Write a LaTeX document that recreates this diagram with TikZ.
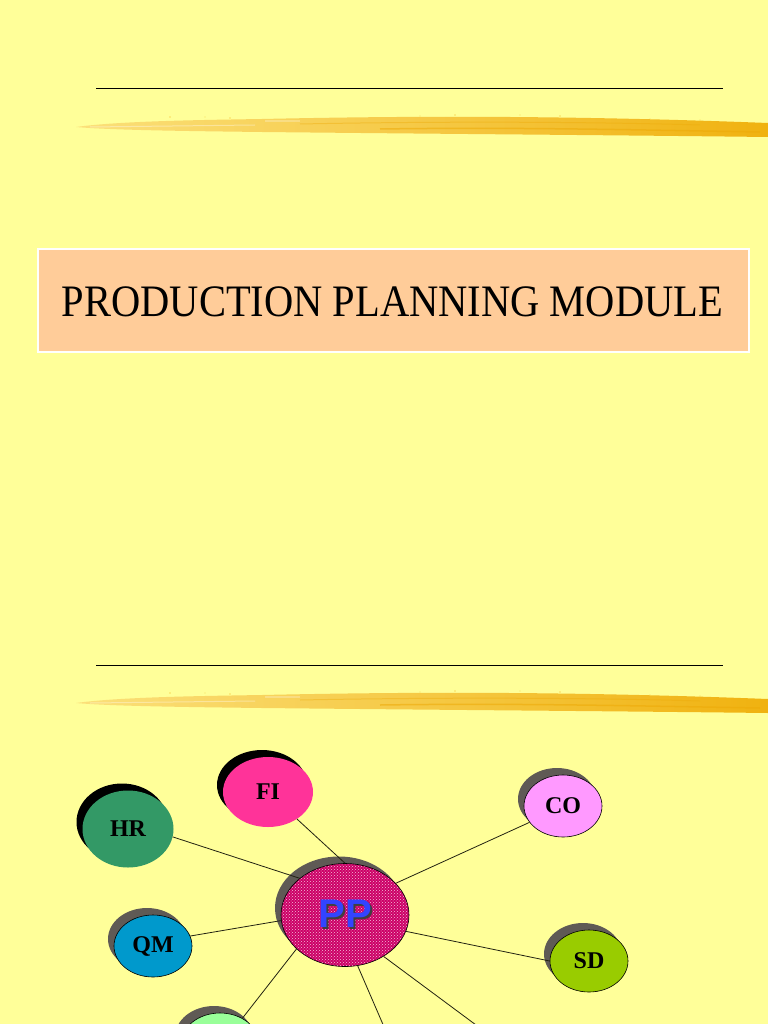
\documentclass[tikz,border=0pt]{standalone}
\usepackage{fontspec}
\setmainfont{Liberation Serif}
\newfontfamily\arialfont{Liberation Sans}
\usetikzlibrary{shapes.geometric,shadows,patterns}
\definecolor{bg}{HTML}{FFFF99}
\definecolor{titlecol}{HTML}{FFCC99}
\definecolor{ficol}{HTML}{FF3399}
\definecolor{hrcol}{HTML}{339966}
\definecolor{qmcol}{HTML}{0099CC}
\definecolor{ppcol}{HTML}{CC0066}
\definecolor{cocol}{HTML}{FF99FF}
\definecolor{sdcol}{HTML}{99CC00}
\definecolor{blcol}{HTML}{99FF99}
\definecolor{shadowgray}{HTML}{5F5A55}
\definecolor{ppblue}{HTML}{3344FF}
\definecolor{linecol}{HTML}{222211}
\definecolor{brushA}{HTML}{FBE07A}
\definecolor{brushB}{HTML}{F6C536}
\definecolor{brushC}{HTML}{F0B210}
\definecolor{brushD}{HTML}{EDAA08}
\tikzset{
  modnode/.style={ellipse, inner sep=0pt, font=\fontsize{24}{24}\selectfont\bfseries, text=black},
  blkshadow/.style={general shadow={fill=black, shadow xshift=-6pt, shadow yshift=7pt}},
  grayshadow/.style={general shadow={fill=shadowgray, shadow xshift=-6pt, shadow yshift=7pt}},
  outl/.style={draw=black, line width=0.6pt},
  link/.style={draw=linecol, line width=0.8pt},
  rule/.style={draw=black, line width=1pt},
}
\begin{document}
\begin{tikzpicture}[x=1pt,y=-1pt]
\useasboundingbox (0,0) rectangle (768,1024);
\begin{scope}
\clip (0,0) rectangle (768,1024);
\fill[bg] (0,0) rectangle (768,1024);

% rules and brush strokes
\foreach \dy in {0,576}{
  \begin{scope}[shift={(0,\dy)}]
    \draw[rule] (96,89) -- (723,89);
    \shade[left color=brushA, middle color=brushB, right color=brushC]
      (76,127) .. controls (120,121) and (200,120) .. (262,119)
      .. controls (400,116) and (560,115) .. (768,123)
      -- (768,137)
      .. controls (600,135) and (450,134) .. (262,132)
      .. controls (180,131) and (110,130) .. (76,127) -- cycle;
    \draw[white, opacity=0.35, line width=1pt] (90,127) -- (255,125);
    \draw[white, opacity=0.25, line width=1.2pt] (265,121) -- (300,121);
    \draw[brushD, opacity=0.55, line width=1.5pt] (380,129) .. controls (520,127) and (640,130) .. (760,132);
    \draw[brushD, opacity=0.4, line width=1pt] (300,124) .. controls (450,121) and (600,122) .. (700,125);
    \fill[brushB, opacity=0.6] (170,117) circle (0.8) (205,117) circle (0.7) (230,118) circle (0.8)
      (420,116) circle (0.7) (455,115) circle (0.8) (520,115) circle (0.7) (560,116) circle (0.8)
      (650,119) circle (0.7) (700,120) circle (0.7);
  \end{scope}
}

% title
\node[draw=white, line width=2pt, fill=titlecol, minimum width=711pt, minimum height=103pt, inner sep=0pt] (titlebox) at (393.5,300.5) {};
\node[inner sep=0pt, font=\fontsize{45}{45}\selectfont] (titletext) at (392.5,302) {\scalebox{0.9}[1]{PRODUCTION PLANNING MODULE}};

% module nodes
\node[modnode, blkshadow, fill=ficol, minimum width=90pt, minimum height=70pt] (FI) at (268,792) {FI};
\node[modnode, blkshadow, fill=hrcol, minimum width=91pt, minimum height=77pt] (HR) at (128,829) {HR};
\node[modnode, grayshadow, outl, fill=qmcol, minimum width=78pt, minimum height=62pt] (QM) at (153,946) {QM};
\node[modnode, grayshadow, outl, fill=cocol, minimum width=78pt, minimum height=62pt] (CO) at (563,806) {CO};
\node[modnode, grayshadow, outl, fill=sdcol, minimum width=78pt, minimum height=62pt] (SD) at (589,961) {SD};
\node[modnode, grayshadow, outl, fill=blcol, minimum width=78pt, minimum height=62pt] (BL) at (220,1044) {};
\node[ellipse, inner sep=0pt, grayshadow, preaction={fill=ppcol}, pattern=crosshatch dots, pattern color=white!75!ppcol, outl,
      minimum width=128pt, minimum height=103pt,
      font=\arialfont\bfseries\fontsize{40}{40}\selectfont] (PP) at (345,915)
      {\makebox[0pt][l]{\hspace{2pt}\raisebox{-2pt}{\textcolor{black!75}{PP}}}\textcolor{ppblue}{PP}};

\coordinate (BMend) at (391,1043);
\coordinate (BRend) at (503,1045);

% connectors
\draw[link] (PP.141) -- (HR.-10);
\draw[link] (PP.90) -- (FI.-43);
\draw[link] (PP.32) -- (CO.206);
\draw[link] (PP.185) -- (QM.15);
\draw[link] (PP.-15) -- (SD.180);
\draw[link] (PP.215) -- (BL.49);
\draw[link] (PP.-76) -- (BMend);
\draw[link] (PP.-47) -- (BRend);
\end{scope}
\end{tikzpicture}
\end{document}
